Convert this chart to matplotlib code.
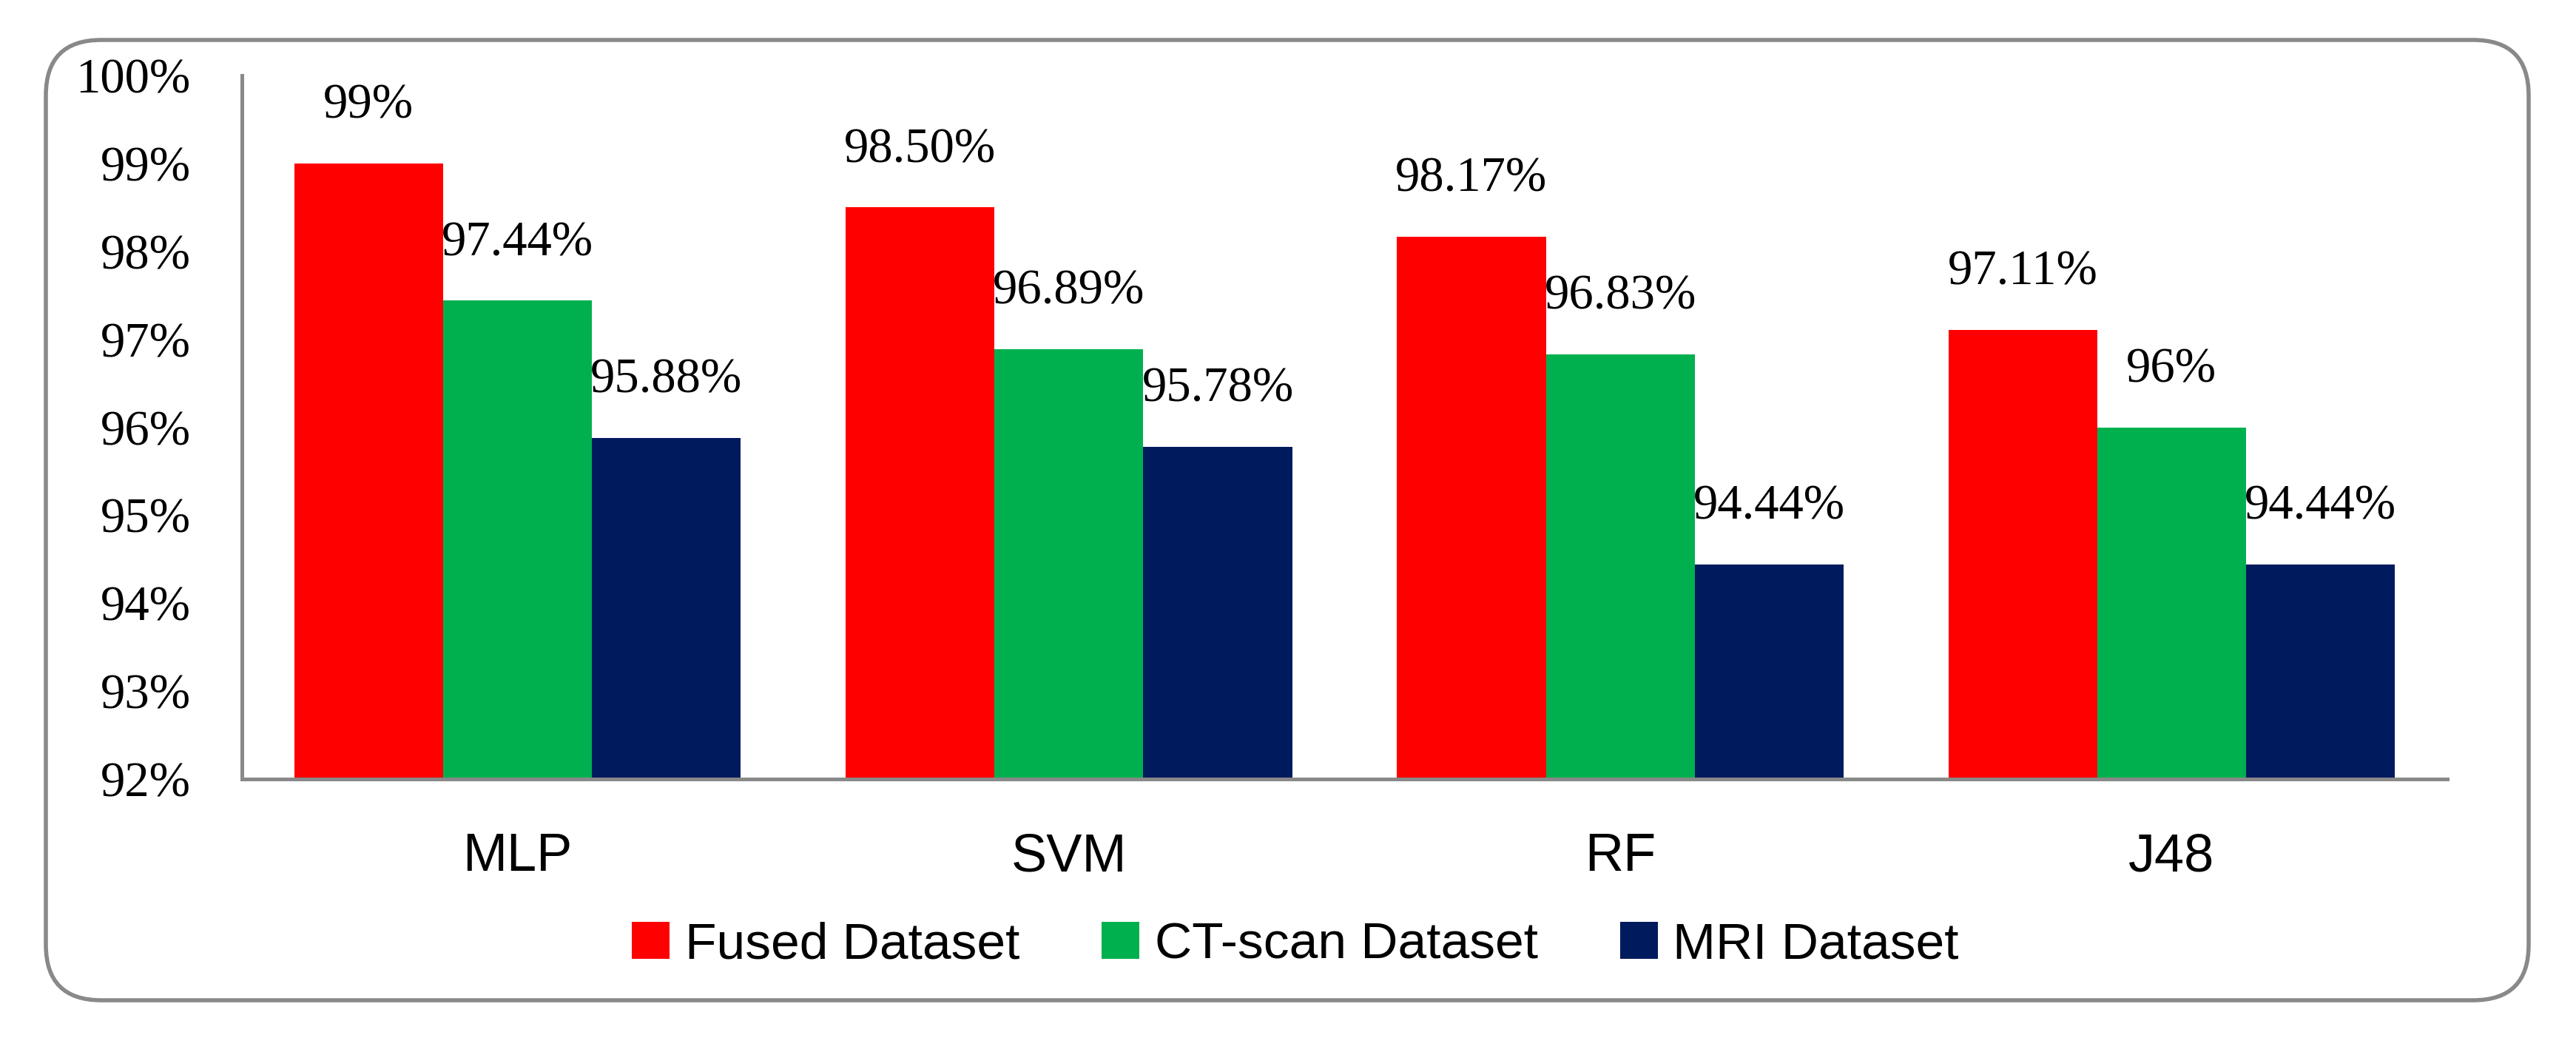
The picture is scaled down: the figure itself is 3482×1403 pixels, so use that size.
import matplotlib.pyplot as plt
import numpy as np
from matplotlib.patches import FancyBboxPatch

# data
models = ['MLP', 'SVM', 'RF', 'J48']
fused = [99, 98.50, 98.17, 97.11]
ctscan = [97.44, 96.89, 96.83, 96]
mri = [95.88, 95.78, 94.44, 94.44]
fused_lbl = ['99%', '98.50%', '98.17%', '97.11%']
ctscan_lbl = ['97.44%', '96.89%', '96.83%', '96%']
mri_lbl = ['95.88%', '95.78%', '94.44%', '94.44%']
yticks = [92, 93, 94, 95, 96, 97, 98, 99, 100]

colors = ['#ff0000', '#00b04f', '#001a5e']
names = ['Fused Dataset', 'CT-scan Dataset', 'MRI Dataset']
gray = '#898989'
serif = ['Liberation Serif', 'DejaVu Serif']
sans = ['Liberation Sans', 'DejaVu Sans']

fig = plt.figure(figsize=(34.82, 14.03), dpi=100)

# rounded frame around the whole chart
frame = FancyBboxPatch((0.62, 0.51), 33.56, 12.98,
                       boxstyle='round,pad=0,rounding_size=0.75',
                       transform=fig.dpi_scale_trans, facecolor='none',
                       edgecolor=gray, linewidth=4, zorder=-1)
fig.patches.append(frame)

ax = fig.add_axes([327/3482, 350/1403, (3308-327)/3482, (1053-102)/1403])
ax.patch.set_alpha(0)

x = np.arange(len(models))
w = 0.27
series = [(fused, fused_lbl), (ctscan, ctscan_lbl), (mri, mri_lbl)]
for i, (vals, lbls) in enumerate(series):
    pos = x + (i - 1) * w
    ax.bar(pos, np.array(vals) - 92, width=w, bottom=92, color=colors[i],
           label=names[i], zorder=2)
    for p, v, l in zip(pos, vals, lbls):
        ax.annotate(l, (p, v), xytext=(0, 56), textcoords='offset points',
                    ha='center', va='center', fontsize=48, family=serif)

ax.set_xlim(-0.5, 3.5)
ax.set_ylim(92, 100)
ax.set_yticks(yticks)
ax.set_yticklabels([str(t) + '%' for t in yticks], family=serif, fontsize=48)
ax.set_xticks(x)
ax.set_xticklabels(models, family=sans, fontsize=52)
ax.tick_params(axis='y', length=0, pad=50)
ax.tick_params(axis='x', length=0, pad=52)
for s in ['top', 'right']:
    ax.spines[s].set_visible(False)
for s in ['left', 'bottom']:
    ax.spines[s].set_color(gray)
    ax.spines[s].set_linewidth(3.6)

leg = fig.legend(loc='center', bbox_to_anchor=(1751/3482, 1 - 1277/1403), ncol=3,
                 frameon=False, prop={'family': sans, 'size': 50},
                 handlelength=0.73, handleheight=0.74, handletextpad=0.3,
                 columnspacing=1.6)

fig.savefig('out.png', dpi=100)
